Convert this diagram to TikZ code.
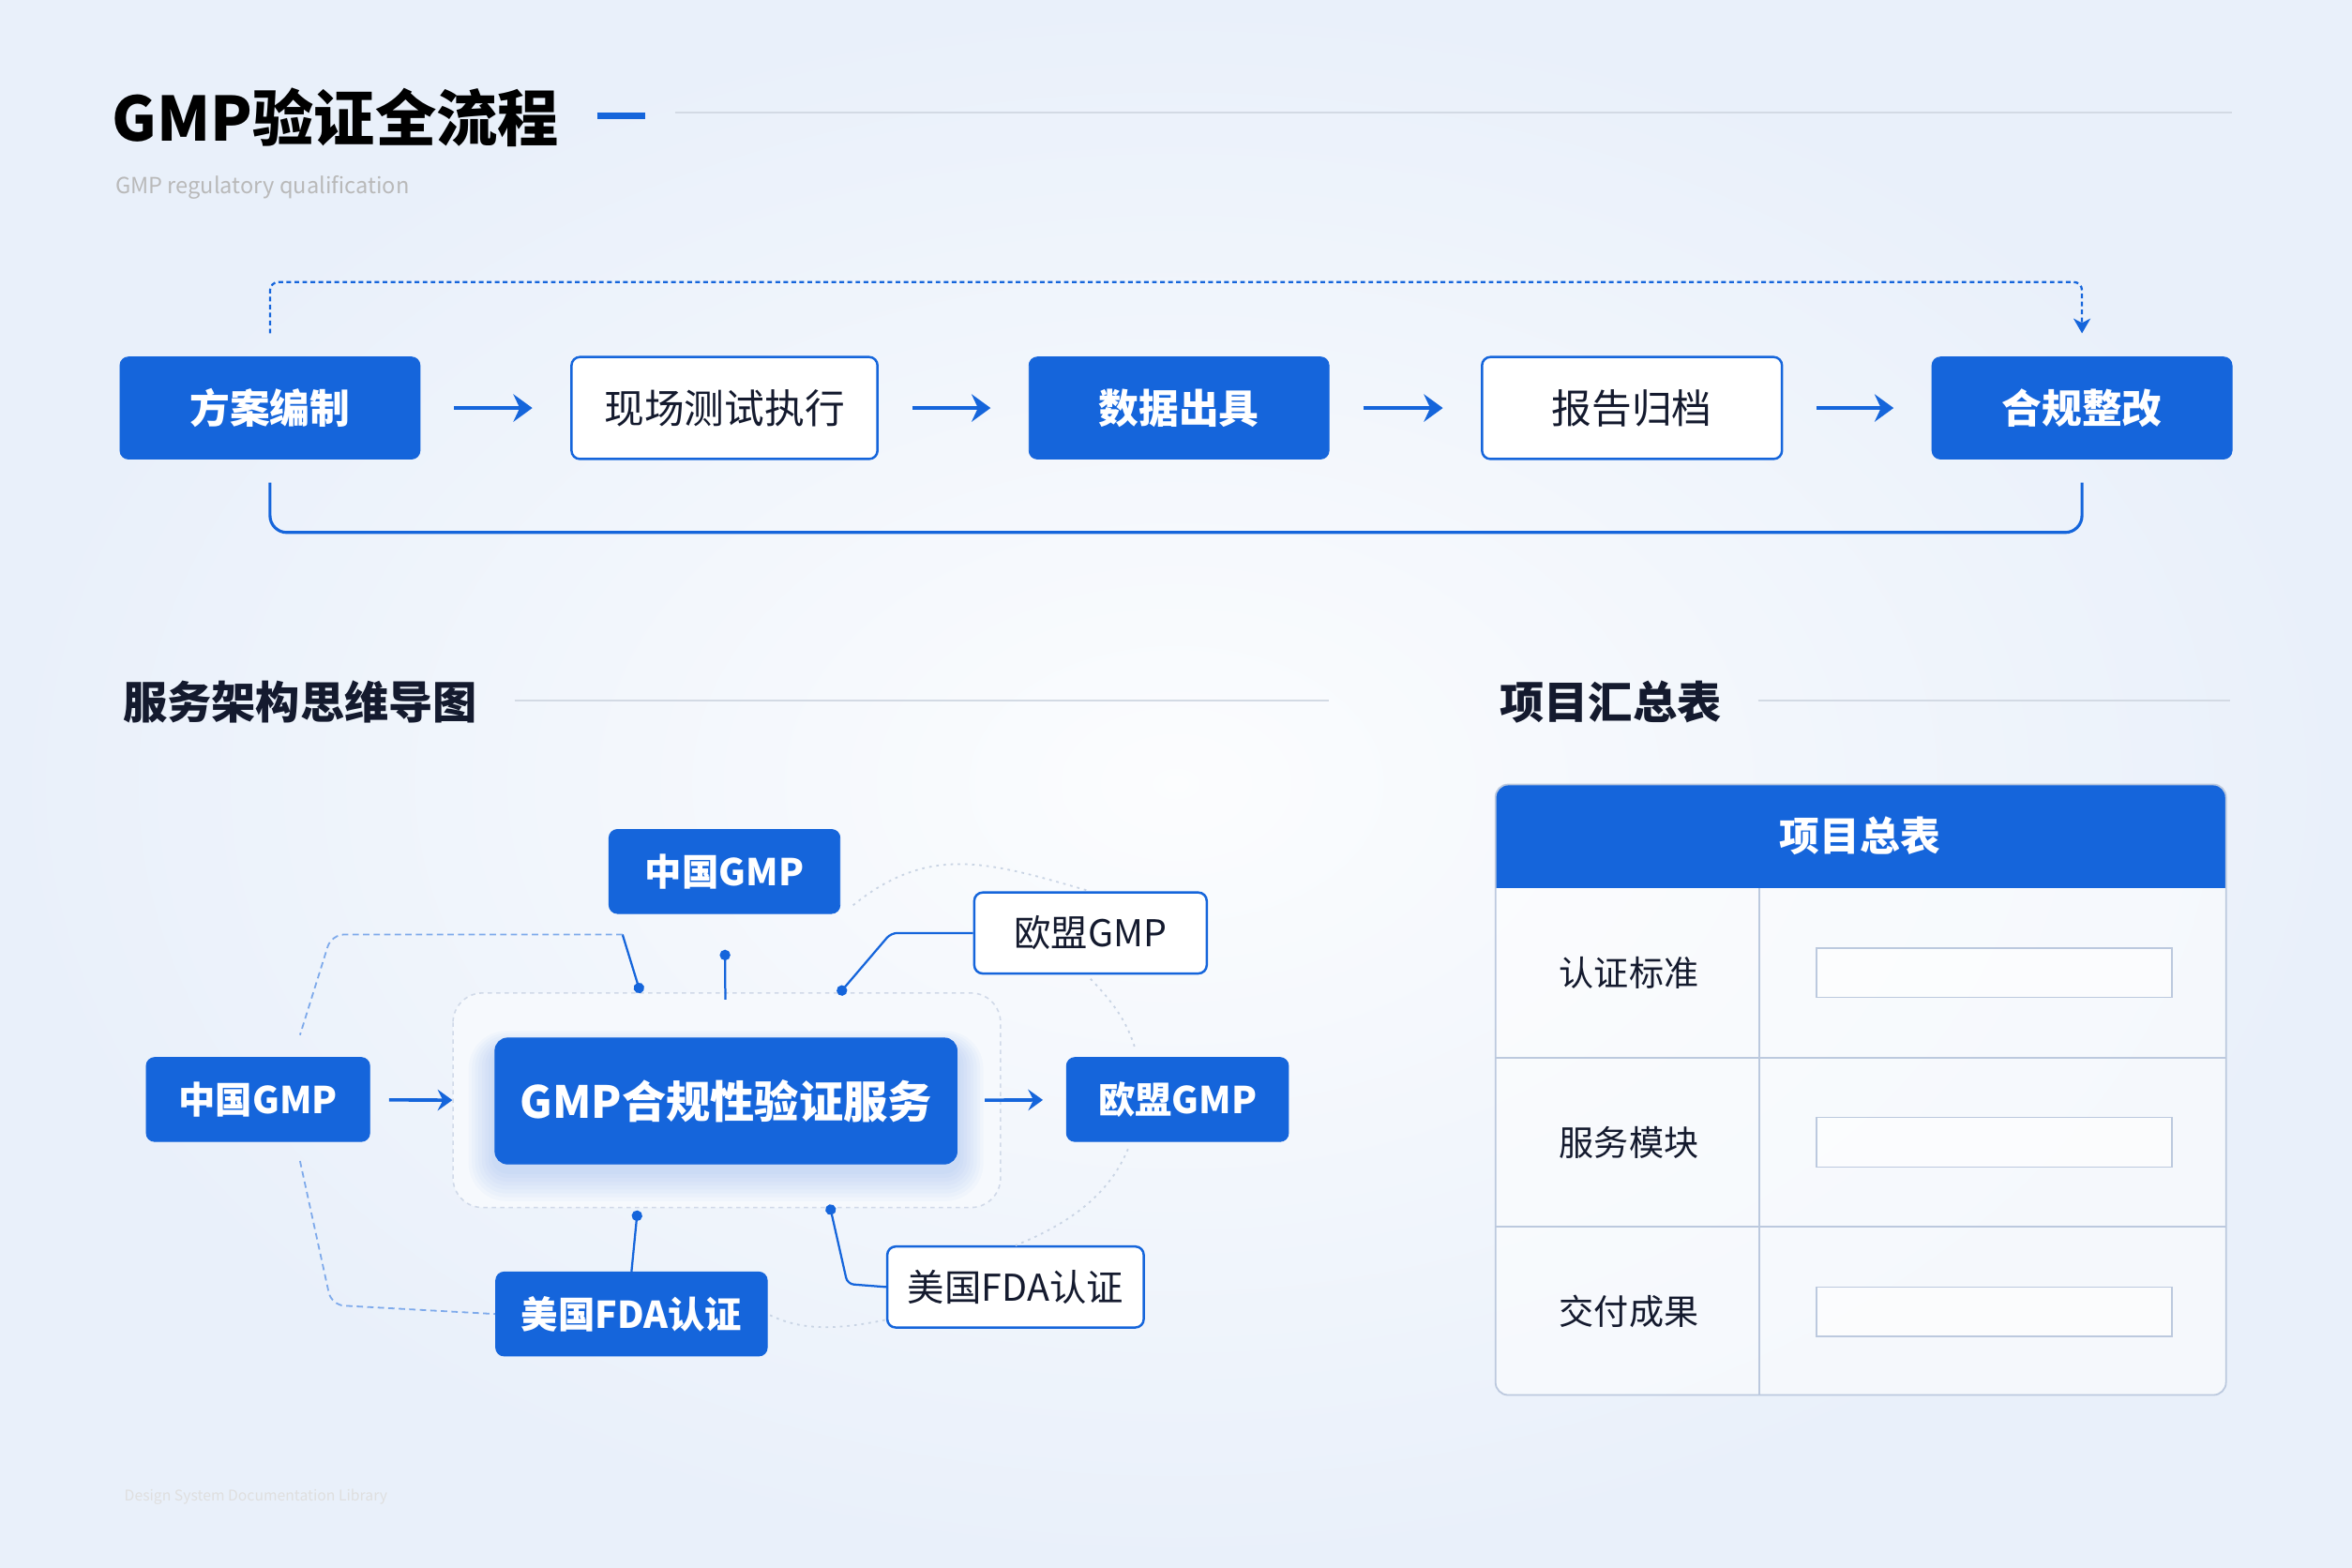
\documentclass[tikz,border=0pt]{standalone}
\usepackage{fontspec}
\setmainfont{Noto Sans CJK SC}
\usetikzlibrary{arrows.meta,positioning}

\definecolor{gmpblue}{HTML}{1565DB}
\definecolor{rulegray}{HTML}{D3DAE4}
\definecolor{bgblue}{HTML}{E9F0FA}
\definecolor{cellline}{HTML}{BCC9DE}
\definecolor{darkink}{HTML}{141A2E}
\def\pxu{0.025cm}

\tikzset{
  bluebox/.style={draw=gmpblue, fill=gmpblue, rounded corners=4pt, text=white,
    font=\bfseries\fontsize{19}{19}\selectfont, minimum width=#1*\pxu,
    minimum height=68*\pxu, inner sep=0pt},
  bluebox/.default=200,
  whitebox/.style={bluebox=#1, fill=white, text=darkink, line width=1.1pt,
    font=\fontsize{19}{19}\selectfont},
  whitebox/.default=200,
  satbox/.style={bluebox=#1, minimum height=56*\pxu,
    font=\bfseries\fontsize{17.5}{17.5}\selectfont},
  satwbox/.style={whitebox=#1, minimum height=54*\pxu,
    font=\fontsize{17.5}{17.5}\selectfont},
  flowarrow/.style={-{Stealth[length=9pt,width=13pt,inset=3pt]}, gmpblue,
    line width=2pt, shorten <=16pt, shorten >=18pt},
  maparrow/.style={-{Stealth[length=7pt,width=10pt,inset=2.5pt]}, gmpblue,
    line width=1.6pt},
  link/.style={gmpblue, line width=1pt},
  dotlink/.style={link, {Circle[length=5pt]}-},
  linkdash/.style={gmpblue!55, line width=0.8pt, dash pattern=on 3pt off 2pt},
  faintdot/.style={cellline!80, line width=0.8pt, dash pattern=on 1.2pt off 2.2pt},
  heading/.style={anchor=west, text=darkink, font=\bfseries\fontsize{21}{21}\selectfont},
  rowlabel/.style={text=darkink, font=\fontsize{16.5}{16.5}\selectfont},
  inputbox/.style={draw=cellline, fill=white, fill opacity=0.6, line width=0.7pt,
    minimum width=237*\pxu, minimum height=33*\pxu, inner sep=0pt}
}

\begin{document}
\begin{tikzpicture}[x=0.025cm, y=-0.025cm]

    % fondo
    \useasboundingbox (0,0) rectangle (1568,1045);
    \fill[bgblue] (0,0) rectangle (1568,1045);
    \shade[inner color=white!85!bgblue, outer color=bgblue] (0,0) rectangle (1568,1045);

    % titulo
    \node[anchor=west, text=black, font=\bfseries\fontsize{29}{29}\selectfont] (title) at (70,78) {GMP验证全流程};
    \draw[gmpblue, line width=3pt] (398,77) -- (430,77);
    \draw[rulegray, line width=0.8pt] (450,75) -- (1488,75);
    \node[anchor=west, text=gray!55, font=\fontsize{10.5}{10.5}\selectfont] (subtitle) at (72,125) {GMP regulatory qualification};

    % flujo
    \node[bluebox] (plan) at (180,272) {方案编制};
    \node[whitebox=204] (test) at (483,272) {现场测试执行};
    \node[bluebox] (data) at (786,272) {数据出具};
    \node[whitebox] (report) at (1088,272) {报告归档};
    \node[bluebox] (fix) at (1388,272) {合规整改};

    \draw[flowarrow] (plan) -- (test);
    \draw[flowarrow] (test) -- (data);
    \draw[flowarrow] (data) -- (report);
    \draw[flowarrow] (report) -- (fix);

    % lazo superior y soporte inferior
    \coordinate (loopL) at (180,188);
    \coordinate (loopR) at (1388,188);
    \draw[link, dash pattern=on 2.2pt off 1.6pt, rounded corners=4pt, -{Stealth[length=7pt,width=8pt,inset=2pt]}]
        ([yshift=11pt]plan.north) -- (loopL) -- (loopR) -- ([yshift=11pt]fix.north);
    \coordinate (baseL) at (180,355);
    \coordinate (baseR) at (1388,355);
    \draw[link, line width=1.4pt, rounded corners=8pt]
        ([yshift=-11pt]plan.south) -- (baseL) -- (baseR) -- ([yshift=-11pt]fix.south);

    % secciones
    \node[heading] (maphead) at (77,468) {服务架构思维导图};
    \draw[rulegray, line width=0.8pt] (343,467) -- (886,467);
    \node[heading] (tablehead) at (995,468) {项目汇总表};
    \draw[rulegray, line width=0.8pt] (1172,467) -- (1487,467);

    % mapa
    \draw[cellline!70, fill=white!60!bgblue, line width=0.7pt, dash pattern=on 2pt off 2pt, rounded corners=14pt]
        (302,662) rectangle (667,805);
    % halo del nodo central
    \foreach \s in {1,...,8}
      \fill[gmpblue, opacity=0.025, rounded corners=6pt+\s*1.5pt]
        (330-\s*2.2,700-\s*1.6) rectangle (638+\s*2.2,780+\s*2.6);
    \node[bluebox=308, minimum height=84*\pxu, rounded corners=6pt,
          font=\bfseries\fontsize{21}{21}\selectfont] (core) at (484,734) {GMP合规性验证服务};
    \node[satbox=154] (cntop) at (483,581) {中国GMP};
    \node[satwbox=155] (euwhite) at (727,622) {欧盟GMP};
    \node[satbox=149] (cnleft) at (172,733) {中国GMP};
    \node[satbox=148] (euright) at (785,733) {欧盟GMP};
    \node[satbox=181] (fdabot) at (421,876) {美国FDA认证};
    \node[satwbox=171] (fdawhite) at (677,858) {美国FDA认证};

    \draw[maparrow, shorten <=9pt, shorten >=20pt] (cnleft) -- (core);
    \draw[maparrow, shorten <=13pt, shorten >=11pt] (core) -- (euright);

    \draw[dotlink, shorten <=17pt, shorten >=18pt] (cntop) -- (core);
    \draw[dotlink, shorten <=0pt] (427,662) -- (415,623) coordinate (kTL);
    \draw[linkdash, rounded corners=6pt] (kTL) -- (221,623) -- (200,690);
    \draw[linkdash, rounded corners=6pt] (200,774) -- (221,870) -- (fdabot.west);
    \draw[dotlink] (425,807) -- (fdabot.north);
    \draw[dotlink, rounded corners=3pt] (553,803) -- (565,856) -- (fdawhite.west);
    \draw[dotlink, rounded corners=3pt] (559,663) -- (594,622) -- (euwhite.west);

    % arcos tenues
    \draw[faintdot] (cntop.east) ++(6pt,-16pt) .. controls (620,562) and (660,575) .. (euwhite.north);
    \draw[faintdot] (euwhite.south) ++(0,-2pt) .. controls (742,668) and (752,682) .. (757,700);
    \draw[faintdot] (752,766) .. controls (740,795) and (715,815) .. (fdawhite.north);
    \draw[faintdot] (590,880) .. controls (560,886) and (535,888) .. (fdabot.east);

    % tabla
    \fill[white, opacity=0.55, rounded corners=6pt] (997,523) rectangle (1484,930);
    \begin{scope}
      \clip[rounded corners=6pt] (997,523) rectangle (1484,930);
      \fill[gmpblue] (997,523) rectangle (1484,592);
    \end{scope}
    \draw[cellline, line width=0.8pt, rounded corners=6pt] (997,523) rectangle (1484,930);
    \draw[cellline, line width=0.8pt] (997,705) -- (1484,705);
    \draw[cellline, line width=0.8pt] (997,818) -- (1484,818);
    \draw[cellline, line width=0.8pt] (1173,592) -- (1173,930);
    \node[text=white, font=\bfseries\fontsize{19}{19}\selectfont] (thead) at (1240,557) {项目总表};

    \foreach \lbl [count=\i] in {认证标准, 服务模块, 交付成果} {
      \node[rowlabel] (label\i) at (1086,535.5+113*\i) {\lbl};
      \node[inputbox] (input\i) at (1329.5,535.5+113*\i) {};
    }

    % pie
    \node[anchor=west, text=gray!25, font=\fontsize{7}{7}\selectfont] (footer) at (78,998) {Design System Documentation Library};

\end{tikzpicture}
\end{document}
